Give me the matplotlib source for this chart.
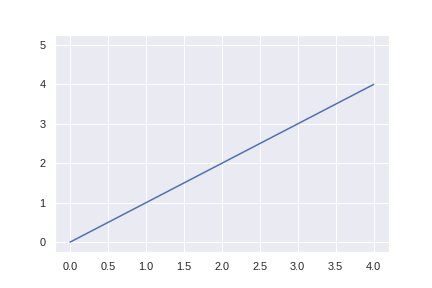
import matplotlib
matplotlib.use("Agg")
import matplotlib.pyplot as plt
import seaborn as sns

sns.set_theme(style="darkgrid")
plt.rcParams['font.family'] = ['Liberation Sans', 'DejaVu Sans']

x = [0, 1, 2, 3, 4]
y = [0, 1, 2, 3, 4]

fig, ax = plt.subplots(figsize=(6, 4), dpi=72)
fig.subplots_adjust(left=0.127, right=0.9, bottom=0.125, top=0.878)
ax.plot(x, y)
ax.set_xlim(-0.2, 4.2)
ax.set_ylim(-0.25, 5.25)
ax.set_xticks([0, 0.5, 1, 1.5, 2, 2.5, 3, 3.5, 4])
ax.set_yticks([0, 1, 2, 3, 4, 5])
fig.savefig("out.png", dpi=72)
